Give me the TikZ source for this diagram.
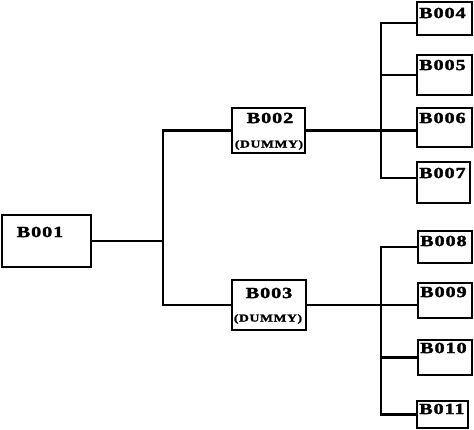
\documentclass[tikz,border=0pt]{standalone}
\usepackage{fontspec}
\newfontfamily\bxf{Liberation Serif}[UprightFont={* Bold}, FakeStretch=1.3, FakeBold=2, LetterSpace=6]
\begin{document}
\begin{tikzpicture}[x=1pt,y=-1pt,
  box/.style={draw, line width=2pt, rectangle, inner sep=0pt, outer sep=0pt, anchor=north west},
  lbl/.style={inner sep=0pt, font=\bxf\fontsize{15.5}{16}\selectfont},
  sub/.style={inner sep=0pt, font=\bxf\fontsize{10.5}{11}\selectfont},
  conn/.style={line width=2.3pt}]
\useasboundingbox (0,0) rectangle (474,430);
% boxes
\node[box, minimum width=89pt, minimum height=52pt] (b1) at (2,215) {};
\node[box, minimum width=73pt, minimum height=45pt] (b2) at (232,108) {};
\node[box, minimum width=74pt, minimum height=50pt] (b3) at (232,280) {};
\node[box, minimum width=55pt, minimum height=33pt] (b4) at (417,2) {};
\node[box, minimum width=55pt, minimum height=40pt] (b5) at (417,55) {};
\node[box, minimum width=55pt, minimum height=39pt] (b6) at (417,108) {};
\node[box, minimum width=53pt, minimum height=41pt] (b7) at (417,162) {};
\node[box, minimum width=54pt, minimum height=32pt] (b8) at (418,231) {};
\node[box, minimum width=54pt, minimum height=35pt] (b9) at (418,283) {};
\node[box, minimum width=54pt, minimum height=35pt] (b10) at (418,340) {};
\node[box, minimum width=51pt, minimum height=27pt] (b11) at (417,401) {};
% texts
\node[lbl] (t1) at (40,232) {B001};
\node[lbl] (t2) at (270,118) {B002};
\node[sub] (d2) at (269,145) {(DUMMY)};
\node[lbl] (t3) at (269,293) {B003};
\node[sub] (d3) at (268,319) {(DUMMY)};
\node[lbl, anchor=west] (t4) at (419,13) {B004};
\node[lbl, anchor=west] (t5) at (419,65) {B005};
\node[lbl, anchor=west] (t6) at (419,118) {B006};
\node[lbl, anchor=west] (t7) at (419,173) {B007};
\node[lbl, anchor=west] (t8) at (420,241) {B008};
\node[lbl, anchor=west] (t9) at (420,292) {B009};
\node[lbl, anchor=west] (t10) at (420,348) {B010};
\node[lbl, anchor=west] (t11) at (419,409) {B011};
% junctions
\coordinate (v1) at (163,241);
\coordinate (v2) at (381,130);
\coordinate (v3) at (381,302);
% connectors
\draw[conn] (b1.east) -- (v1);
\draw[conn] (b2.west) -| (v1) |- (b3.west);
\draw[conn] (b2.east) -- (b2.east -| b6.west);
\draw[conn] ([yshift=-4.5pt]b4.west) -| (v2) |- ([yshift=4.5pt]b7.west);
\draw[conn] (b5.west) -- (b5.west -| v2);
\draw[conn] (b3.east) -- (b3.east -| b9.west);
\draw[conn] (b8.west) -| (v3) |- (b11.west);
\draw[conn] (b10.west) -- (b10.west -| v3);
\end{tikzpicture}
\end{document}
